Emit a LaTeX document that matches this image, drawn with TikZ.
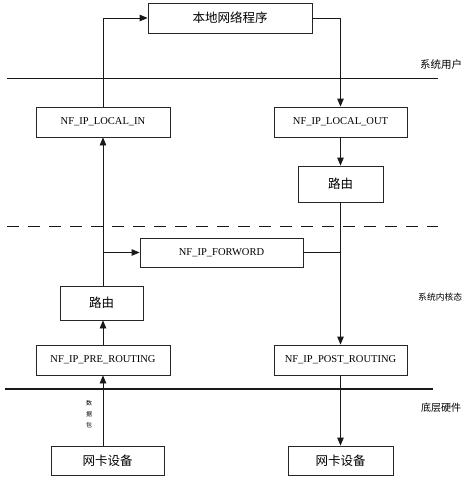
\documentclass[tikz,border=0pt]{standalone}
\usepackage{fontspec}
\setmainfont{Liberation Serif}
\newfontfamily\cjk{Noto Sans CJK SC}
\usetikzlibrary{arrows.meta}
\begin{document}
\begin{tikzpicture}[x=1pt,y=-1pt,
  box/.style={draw=black!85,line width=0.8pt,inner sep=0pt,font=\fontsize{10.5}{12}\selectfont},
  cbox/.style={box,font=\cjk\fontsize{12.5}{14}\selectfont},
  lbl/.style={font=\cjk\fontsize{10}{11}\selectfont,inner sep=0pt},
  arr/.style={draw=black!90,line width=0.8pt,-{Triangle[length=8pt,width=6.5pt]}},
  ln/.style={draw=black!90,line width=0.8pt},
  sep/.style={draw=black!90,line width=0.9pt}]
\useasboundingbox (0,0) rectangle (474,480);
% boxes
\node[cbox,minimum width=164pt,minimum height=30pt] (app) at (230,18) {本地网络程序};
\node[box,minimum width=134pt,minimum height=30pt] (lin) at (103,122) {NF\_IP\_LOCAL\_IN};
\node[box,minimum width=133pt,minimum height=30pt] (lout) at (340.5,122) {NF\_IP\_LOCAL\_OUT};
\node[cbox,minimum width=85pt,minimum height=36pt] (r2) at (340.5,184) {路由};
\node[box,minimum width=163pt,minimum height=29pt] (fwd) at (221.5,252.5) {NF\_IP\_FORWORD};
\node[cbox,minimum width=83pt,minimum height=34pt] (r1) at (101.5,303) {路由};
\node[box,minimum width=134pt,minimum height=30pt] (pre) at (103,360) {NF\_IP\_PRE\_ROUTING};
\node[box,minimum width=133pt,minimum height=30pt] (post) at (340.5,360) {NF\_IP\_POST\_ROUTING};
\node[cbox,minimum width=113pt,minimum height=29pt] (nic1) at (107.5,460.5) {网卡设备};
\node[cbox,minimum width=105pt,minimum height=29pt] (nic2) at (340.5,460.5) {网卡设备};
% separators
\coordinate (s1a) at (7,78); \coordinate (s1b) at (438,78);
\coordinate (s2a) at (7,226); \coordinate (s2b) at (438,226);
\coordinate (s3a) at (5,389); \coordinate (s3b) at (433,389);
\draw[sep] (s1a) -- (s1b);
\draw[sep,dash pattern=on 12pt off 9pt] (s2a) -- (s2b);
\draw[sep,line width=1.3pt] (s3a) -- (s3b);
% layer labels
\node[lbl,anchor=west,font=\cjk\fontsize{10.5}{11}\selectfont] (l1) at (420,65) {系统用户};
\node[lbl,anchor=west,font=\cjk\fontsize{8.8}{10}\selectfont] (l2) at (418,297) {系统内核态};
\node[lbl,anchor=west] (l3) at (421,408) {底层硬件};
\node[font=\cjk\fontsize{6}{11}\selectfont,align=center,inner sep=0pt] (pk) at (89,414) {数\\据\\包};
% connectors
\coordinate (lc) at (lin.north |- app.west);
\coordinate (rc) at (lout.north |- app.east);
\coordinate (r1s) at (r1.south -| pre.north);
\coordinate (r1n) at (r1.north -| lin.south);
\coordinate (fj) at (fwd.west -| lin.south);
\coordinate (fk) at (fwd.east -| r2.south);
\draw[arr] (nic1.north -| pre.south) -- (pre.south);
\draw[arr] (pre.north) -- (r1s);
\draw[arr] (r1n) -- (lin.south);
\draw[arr] (fj) -- (fwd.west);
\draw[arr] (lin.north) -- (lc) -- (app.west);
\draw[arr] (app.east) -- (rc) -- (lout.north);
\draw[arr] (lout.south) -- (r2.north);
\draw[arr] (r2.south) -- (post.north);
\draw[ln] (fwd.east) -- (fk);
\draw[arr] (post.south) -- (nic2.north);
\end{tikzpicture}
\end{document}
